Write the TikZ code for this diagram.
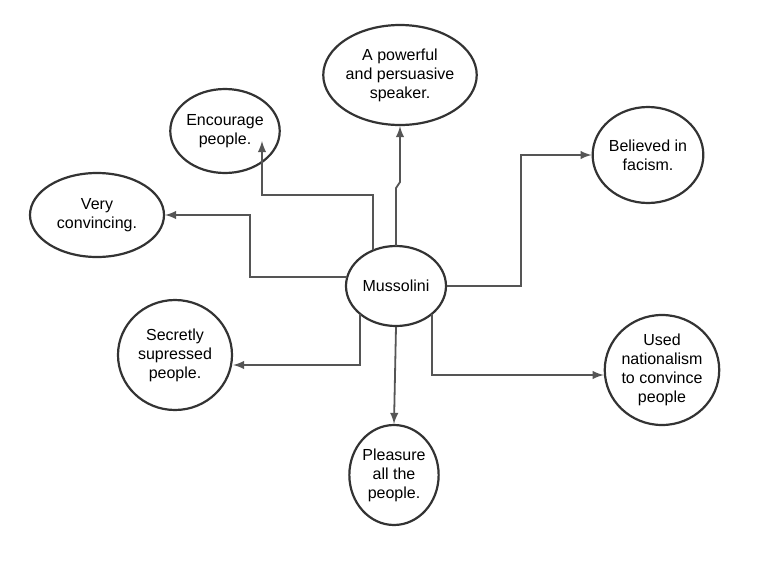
\documentclass[tikz,border=0pt]{standalone}
\usepackage{fontspec}
\setmainfont{Liberation Sans}
\usetikzlibrary{arrows,positioning,calc,shapes.geometric}
\definecolor{linegray}{HTML}{555555}
\definecolor{rimgray}{HTML}{333333}

\begin{document}
\begin{tikzpicture}[x=0.5pt, y=-0.5pt, ->, >=latex, line width=0.9pt,
    idea/.style={draw=rimgray, ellipse, line width=1.1pt, inner sep=0pt,
      font=\fontsize{8}{9.5}\selectfont, align=center, text=black},
    link/.style={draw=linegray}]
   \useasboundingbox (0,0) rectangle (768,563);
   \node[idea, minimum width=50pt, minimum height=40pt] (mus) at (396,286) {Mussolini};
   \node[idea, minimum width=50pt, minimum height=42pt] (enc) at (225,131) {Encourage\\people.};
   \node[idea, minimum width=76pt, minimum height=50pt] (pow) at (400,75) {A powerful\\and persuasive\\speaker.};
   \node[idea, minimum width=52pt, minimum height=48pt] (fac) at (648,155) {Believed in\\facism.};
   \node[idea, minimum width=67pt, minimum height=42pt] (con) at (97,215) {Very\\convincing.};
   \node[idea, minimum width=57pt, minimum height=55pt] (sec) at (175,355) {Secretly\\supressed\\people.};
   \node[idea, minimum width=52pt, minimum height=55pt] (nat) at (662,370) {Used\\nationalism\\to convince\\people};
   \node[idea, minimum width=42pt, minimum height=50pt] (ple) at (394,475) {Pleasure\\all the\\people.};
   % connectors
   \coordinate (e0) at ($(mus)+(-23,-36)$);
   \coordinate (e1) at ($(enc)+(37,10)$);
   \draw[link] (e0) -- (e0 |- 0,195) -| (e1);
   \draw[link] ($(mus)+(0,-40)$) -- ++(0,-58) -- ++(4,-6) -- (pow.south);
   \draw[link] (mus.east) -- ++(74,0) |- (fac.west);
   \draw[link] ($(mus)+(-49,-9)$) -- ++(-97,0) |- (con.east);
   \coordinate (s0) at ($(mus)+(-36,28)$);
   \draw[link] (s0) -- (s0 |- 0,365) -- (sec.east |- 0,365);
   \draw[link] (mus.south) -- (ple.north);
   \coordinate (n0) at ($(mus)+(36,28)$);
   \draw[link] (n0) -- (n0 |- 0,375) -- (nat.west |- 0,375);
\end{tikzpicture}
\end{document}
